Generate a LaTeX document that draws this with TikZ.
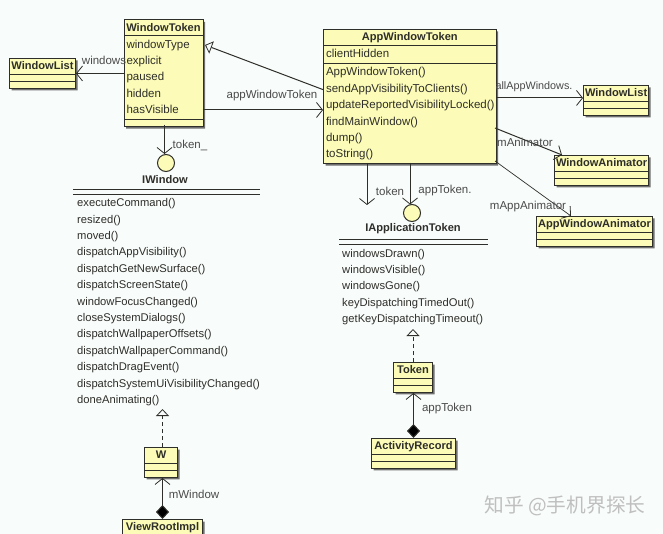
\documentclass[tikz,border=0pt]{standalone}
\usepackage{fontspec}
\setmainfont{Liberation Sans}
\newfontfamily\cjkfont{Noto Sans CJK SC}
\usetikzlibrary{shapes,shadows}
\usetikzlibrary{arrows.meta}
\definecolor{paper}{HTML}{F8FCFA}
\definecolor{classfill}{HTML}{FCFCB8}
\definecolor{ink}{HTML}{2E2E2A}
\definecolor{labelink}{HTML}{4A4A4A}
\newcommand{\memberlist}[1]{\begin{tabular}{@{\hspace{1pt}}l@{}}#1\end{tabular}}
\tikzset{classbox/.style={rectangle split,rectangle split parts=3,rectangle split part align={center,left,left},
rectangle split empty part height=2pt,rectangle split empty part depth=0pt,
anchor=north west,draw=ink,line width=1pt,fill=classfill,inner xsep=1.5pt,inner ysep=0.4pt,
text=ink,font=\fontsize{11.5}{16.4}\selectfont,
drop shadow={shadow xshift=2pt,shadow yshift=-2pt,fill=black!70,opacity=0.8}},
lollipop/.style={circle,draw=ink,line width=1pt,fill=classfill,minimum size=17pt,inner sep=0pt},
iname/.style={text=ink,inner sep=0pt,font=\fontsize{11.1}{12}\bfseries\selectfont},
methods/.style={anchor=north west,inner sep=0pt,text=ink,font=\fontsize{11.2}{16.4}\selectfont},
lbl/.style={text=labelink,inner sep=0pt,font=\fontsize{11.5}{12}\selectfont},
assoc/.style={draw=ink,line width=1pt,-{Straight Barb[length=6pt,width=15pt,line width=0.8pt]}},
inherit/.style={draw=ink,line width=1pt,-{Triangle[open,fill=paper,length=7pt,width=13pt,line width=0.8pt]}},
realize/.style={inherit,dashed,dash pattern=on 4pt off 3pt},
compose/.style={draw=ink,line width=1pt,{Diamond[length=14pt,width=13pt]}-{Straight Barb[length=6pt,width=15pt,line width=0.8pt]}},
rulepair/.style={draw=ink,line width=1pt}}
\newcommand{\hdr}[1]{{\fontsize{11.1}{14}\bfseries\selectfont\rule[-3.5pt]{0pt}{14pt}#1}}
\begin{document}
\begin{tikzpicture}[x=1pt,y=-1pt]
  \fill [paper] (0,0) rectangle (663,534);
  \path [use as bounding box] (0,0) rectangle (663,534);
  \clip (0,0) rectangle (663,534);
  \node (windowToken) [classbox,minimum width=79pt] at (123.5,19.5) {\hdr{WindowToken}
    \nodepart{two}\memberlist{windowType\\explicit\\paused\\hidden\\hasVisible}
    \nodepart{three}};
  \node (windowListL) [classbox,minimum width=66pt] at (9,58) {\hdr{WindowList}
    \nodepart{two}\nodepart{three}};
  \node (appWindowToken) [classbox,minimum width=171pt] at (323,29) {\hdr{AppWindowToken}
    \nodepart{two}\memberlist{clientHidden}
    \nodepart{three}\memberlist{AppWindowToken()\\sendAppVisibilityToClients()\\updateReportedVisibilityLocked()\\findMainWindow()\\dump()\\toString()}};
  \node (windowListR) [classbox,minimum width=65pt] at (583,85) {\hdr{WindowList}
    \nodepart{two}\nodepart{three}};
  \node (windowAnimator) [classbox,minimum width=94pt] at (554,155) {\hdr{WindowAnimator}
    \nodepart{two}\nodepart{three}};
  \node (appWindowAnimator) [classbox,minimum width=116pt] at (536,216) {\hdr{AppWindowAnimator}
    \nodepart{two}\nodepart{three}};
  \node (iWindow) [lollipop] at (166,163) {};
  \node (iWindowName) [iname] at (165,180) {IWindow};
  \node (iWindowMethods) [methods] at (76,195) {\memberlist{executeCommand()\\resized()\\moved()\\dispatchAppVisibility()\\dispatchGetNewSurface()\\dispatchScreenState()\\windowFocusChanged()\\closeSystemDialogs()\\dispatchWallpaperOffsets()\\dispatchWallpaperCommand()\\dispatchDragEvent()\\dispatchSystemUiVisibilityChanged()\\doneAnimating()}};
  \node (iAppToken) [lollipop] at (412,213) {};
  \node (iAppTokenName) [iname] at (413,229) {IApplicationToken};
  \node (iAppTokenMethods) [methods] at (341,245.5) {\memberlist{windowsDrawn()\\windowsVisible()\\windowsGone()\\keyDispatchingTimedOut()\\getKeyDispatchingTimeout()}};
  \node (w) [classbox,minimum width=33pt] at (144,447) {\hdr{W}
    \nodepart{two}\nodepart{three}};
  \node (viewRootImpl) [classbox,minimum width=80pt] at (122,519) {\hdr{ViewRootImpl}
    \nodepart{two}\nodepart{three}};
  \node (token) [classbox,minimum width=39pt] at (393,362) {\hdr{Token}
    \nodepart{two}\nodepart{three}};
  \node (activityRecord) [classbox,minimum width=84pt] at (371,438) {\hdr{ActivityRecord}
    \nodepart{two}\nodepart{three}};
  \coordinate (tokenEnd) at (367,205);
  \coordinate (iWindowTip) at (162,409);
  \coordinate (iAppTokenTip) at (413,329);
  \draw [rulepair] (73,190) -- (260,190) (73,195) -- (260,195);
  \draw [rulepair] (339,240) -- (488,240) (339,245) -- (488,245);
  \draw [assoc] (windowToken.west |- windowListL.east) -- (windowListL.east);
  \draw [inherit] ([yshift=7pt]appWindowToken.west) -- (205,45);
  \draw [assoc] (202.5,110) -- (appWindowToken.west |- 0,110);
  \draw [assoc] (164.5,125) -- (iWindow.north -| 164.5,0);
  \draw [assoc] (appWindowToken.east |- 0,98) -- (windowListR.west |- 0,98);
  \draw [assoc] (495,128) -- (562,155);
  \draw [assoc,line width=0.7pt] (495,161) -- (571,216);
  \draw [assoc] (367,163) -- (tokenEnd);
  \draw [assoc] (410,163) -- (410,204.5);
  \draw [realize] (token.north) -- (token.north |- iAppTokenTip);
  \draw [realize] ([xshift=1.5pt]w.north) -- ([xshift=1.5pt]w.north |- iWindowTip);
  \draw [compose] ([xshift=1.5pt]w.south |- viewRootImpl.north) -- ([xshift=1.5pt]w.south);
  \draw [compose] (activityRecord.north) -- (activityRecord.north |- token.south);
  \node (windowsLbl) [lbl] at (104,60) {windows};
  \node (appWindowTokenLbl) [lbl] at (272,96) {appWindowToken};
  \node (tokenUnderLbl) [lbl] at (190,145) {token\_};
  \node (allAppWindowsLbl) [lbl,font=\fontsize{10.8}{12}\selectfont] at (534,87) {allAppWindows.};
  \node (mAnimatorLbl) [lbl] at (525,142) {mAnimator};
  \node (mAppAnimatorLbl) [lbl] at (528,207) {mAppAnimator};
  \node (tokenLbl) [lbl] at (390,191) {token};
  \node (appTokenDotLbl) [lbl] at (445,191) {appToken.};
  \node (appTokenLbl) [lbl] at (447,409) {appToken};
  \node (mWindowLbl) [lbl] at (194,494) {mWindow};
  \node (watermark) [inner sep=0pt,text=black!25,font=\cjkfont\fontsize{19.7}{22}\selectfont] at (565,506) {知乎 @手机界探长};
\end{tikzpicture}
\end{document}
